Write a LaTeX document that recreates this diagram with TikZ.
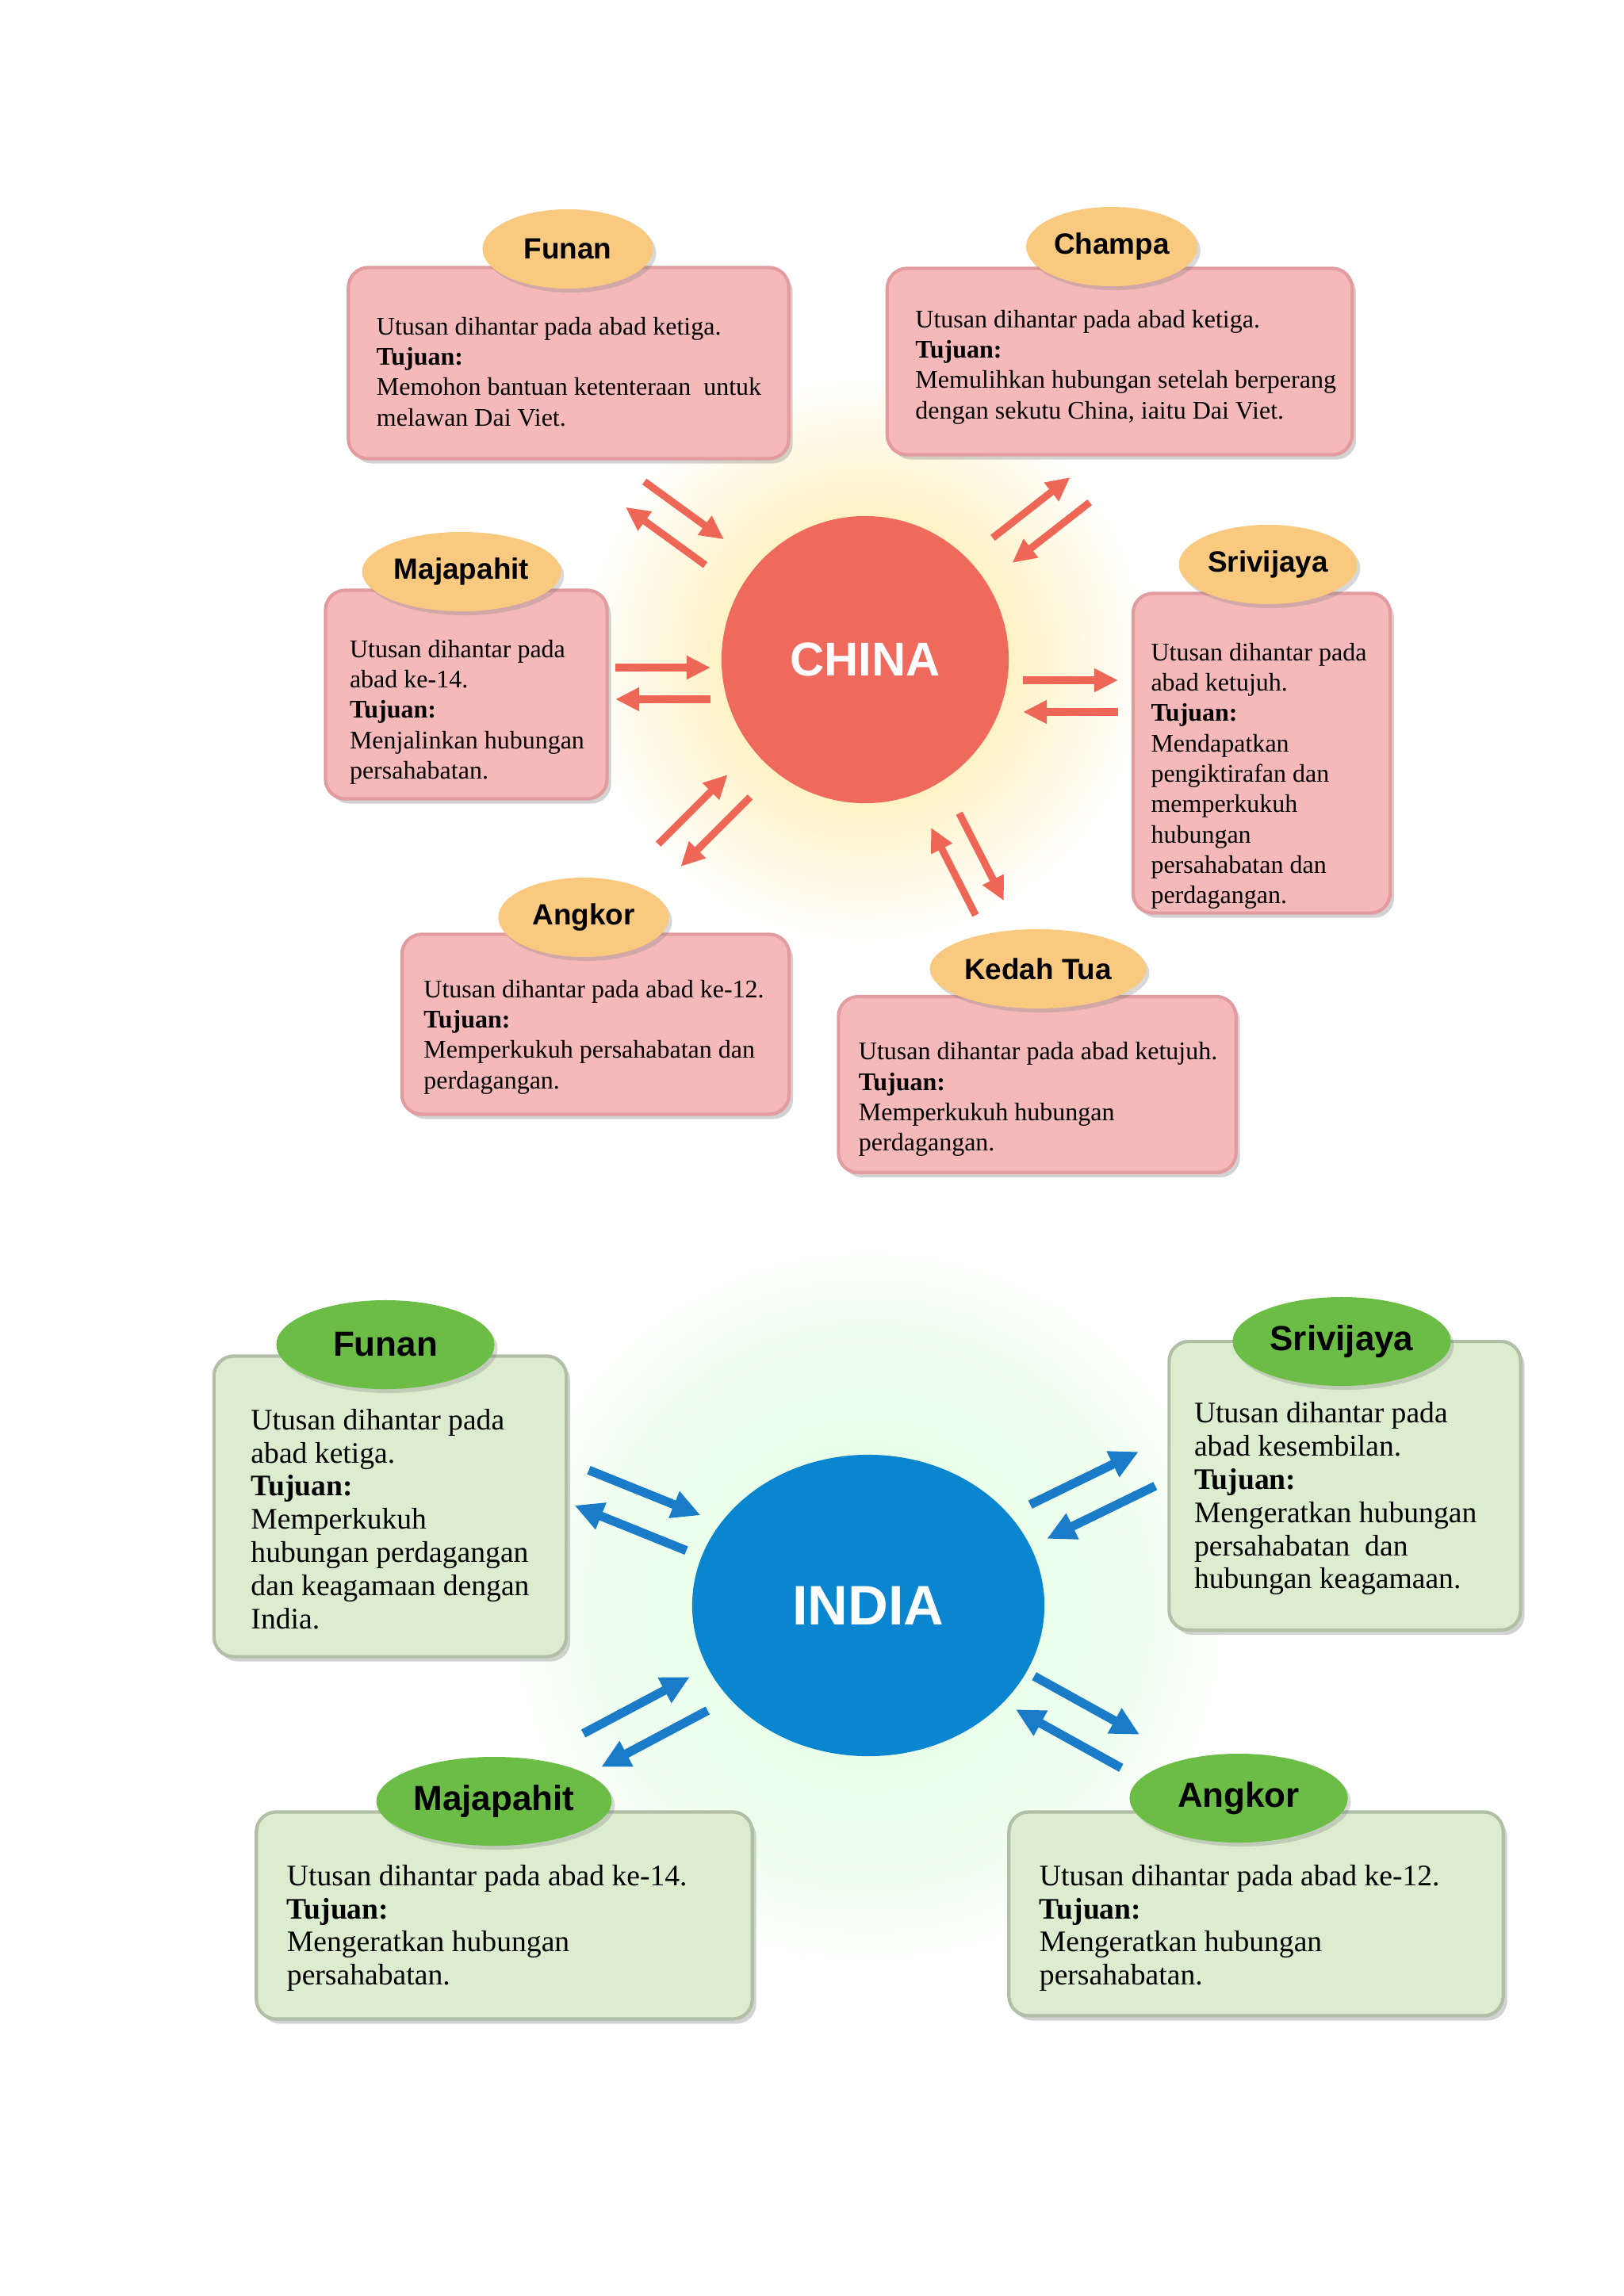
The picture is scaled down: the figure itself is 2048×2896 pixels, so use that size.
\documentclass[tikz,border=0pt]{standalone}
\usepackage{fontspec}
\setmainfont{Liberation Serif}
\newfontfamily\lsans{Liberation Sans}
\usetikzlibrary{arrows.meta,shadows,shapes.geometric}
\definecolor{pinkf}{HTML}{F5B9BA}\definecolor{pinkd}{HTML}{E29C9F}
\definecolor{greenf}{HTML}{DCEDCF}\definecolor{greend}{HTML}{B0BFA6}
\definecolor{orangel}{HTML}{F8C97F}\definecolor{greenl}{HTML}{6BBD45}
\definecolor{chinac}{HTML}{EF6A5D}\definecolor{indiac}{HTML}{0A86D0}
\definecolor{arrr}{HTML}{EE6656}\definecolor{arrb}{HTML}{1A7CC8}
\tikzset{
 x=0.01cm,y=-0.01cm,
 pbox/.style={draw=pinkd,line width=1.2pt,fill=pinkf,rounded corners=0.25cm,drop shadow={opacity=0.35,shadow xshift=0.05cm,shadow yshift=-0.06cm}},
 gbox/.style={draw=greend,line width=1.2pt,fill=greenf,rounded corners=0.25cm,drop shadow={opacity=0.35,shadow xshift=0.05cm,shadow yshift=-0.06cm}},
 olab/.style={ellipse,fill=orangel,minimum width=2.15cm,minimum height=1.0cm,inner xsep=1pt,font=\lsans\bfseries\fontsize{10.5}{12}\selectfont,drop shadow={opacity=0.3,shadow xshift=0.04cm,shadow yshift=-0.05cm}},
 glab/.style={ellipse,fill=greenl,minimum width=2.75cm,minimum height=1.12cm,inner xsep=1pt,font=\lsans\bfseries\fontsize{12.5}{14}\selectfont,drop shadow={opacity=0.3,shadow xshift=0.04cm,shadow yshift=-0.05cm}},
 ctxt/.style={anchor=north west,align=left,inner sep=0pt,font=\fontsize{9.1}{10.9}\selectfont,xshift=0.37cm,yshift=-0.64cm},
 itxt/.style={anchor=north west,align=left,inner sep=0pt,font=\fontsize{10.7}{11.9}\selectfont,xshift=0.48cm,yshift=-0.68cm},
 rarr/.style={draw=arrr,line width=2.6pt,-{Triangle[length=0.3cm,width=0.28cm]}},
 barr/.style={draw=arrb,line width=3.2pt,-{Triangle[length=0.36cm,width=0.34cm]}},
}
\newcommand\arrpair[6]{% x y angle halflength offset style
\begin{scope}[shift={(#1,#2)},rotate=#3]
 \draw[#6] (-#4,-#5) -- (#4,-#5);
 \draw[#6] (#4,#5) -- (-#4,#5);
\end{scope}}
\begin{document}
\begin{tikzpicture}
\useasboundingbox[fill=white] (0,0) rectangle (2048,2896);
% glows
\shade[inner color=yellow!55!orange!45,outer color=white] (1091,832) circle[radius=3.6cm];
\shade[inner color=green!25!white,outer color=white] (1095,2025) circle[radius=4.6cm];
\fill[black!4!green!6!white,opacity=0.7] (1095,2025) circle[radius=3.4cm];
% China
\node[circle,fill=chinac,minimum size=3.62cm,font=\lsans\bfseries\fontsize{17}{19}\selectfont,text=white] (china) at (1091,832) {CHINA};
\node[pbox,minimum width=5.55cm,minimum height=2.41cm] (cfunan) at (717,458) {};
\node[ctxt] (cfunant) at (cfunan.north west) {Utusan dihantar pada abad ketiga.\\\textbf{Tujuan:}\\Memohon bantuan ketenteraan\ \ untuk\\melawan Dai Viet.};
\node[olab] (cfunanl) at (716,314) {Funan};
\node[pbox,minimum width=5.86cm,minimum height=2.35cm] (cchampa) at (1412,456) {};
\node[ctxt,yshift=0.1cm] (cchampat) at (cchampa.north west) {Utusan dihantar pada abad ketiga.\\\textbf{Tujuan:}\\Memulihkan hubungan setelah berperang\\dengan sekutu China, iaitu Dai Viet.};
\node[olab] (cchampal) at (1402,311) {Champa};
\node[pbox,minimum width=3.55cm,minimum height=2.63cm] (cmaja) at (588,876) {};
\node[ctxt,xshift=-0.05cm] (cmajat) at (cmaja.north west) {Utusan dihantar pada\\abad ke-14.\\\textbf{Tujuan:}\\Menjalinkan hubungan\\persahabatan.};
\node[olab] (cmajal) at (582,721) {Majapahit};
\node[pbox,minimum width=3.24cm,minimum height=4.03cm] (csri) at (1591,950) {};
\node[ctxt,xshift=-0.13cm] (csrit) at (csri.north west) {Utusan dihantar pada\\abad ketujuh.\\\textbf{Tujuan:}\\Mendapatkan\\pengiktirafan dan\\memperkukuh\\hubungan\\persahabatan dan\\perdagangan.};
\node[olab] (csril) at (1599,712) {Srivijaya};
\node[pbox,minimum width=4.88cm,minimum height=2.27cm] (cang) at (751,1292) {};
\node[ctxt,yshift=0.05cm,xshift=-0.08cm] (cangt) at (cang.north west) {Utusan dihantar pada abad ke-12.\\\textbf{Tujuan:}\\Memperkukuh persahabatan dan\\perdagangan.};
\node[olab] (cangl) at (736,1157) {Angkor};
\node[pbox,minimum width=5.01cm,minimum height=2.22cm] (ckedah) at (1308,1368) {};
\node[ctxt,yshift=0.05cm,xshift=-0.1cm] (ckedaht) at (ckedah.north west) {Utusan dihantar pada abad ketujuh.\\\textbf{Tujuan:}\\Memperkukuh hubungan\\perdagangan.};
\node[olab,minimum width=2.2cm] (ckedahl) at (1309,1222) {Kedah Tua};
% China arrows
\arrpair{851}{660}{-36}{62}{20}{rarr}
\arrpair{1313}{656}{218}{62}{20}{rarr}
\arrpair{836}{862}{0}{60}{20}{rarr}
\arrpair{1350}{878}{180}{60}{20}{rarr}
\arrpair{888}{1035}{45}{62}{20}{rarr}
\arrpair{1220}{1090}{117}{62}{20}{rarr}
% India
\node[ellipse,fill=indiac,minimum width=4.44cm,minimum height=3.8cm,font=\lsans\bfseries\fontsize{20}{22}\selectfont,text=white] (india) at (1095,2025) {INDIA};
\node[gbox,minimum width=4.44cm,minimum height=3.79cm] (ifunan) at (492,1900) {};
\node[itxt] (ifunant) at (ifunan.north west) {Utusan dihantar pada\\abad ketiga.\\\textbf{Tujuan:}\\Memperkukuh\\hubungan perdagangan\\dan keagamaan dengan\\India.};
\node[glab] (ifunanl) at (486,1696) {Funan};
\node[gbox,minimum width=4.43cm,minimum height=3.64cm] (isri) at (1696,1874) {};
\node[itxt,xshift=-0.15cm,yshift=-0.1cm] (isrit) at (isri.north west) {Utusan dihantar pada\\abad kesembilan.\\\textbf{Tujuan:}\\Mengeratkan hubungan\\persahabatan\ \ dan\\hubungan keagamaan.};
\node[glab] (isril) at (1692,1692) {Srivijaya};
\node[gbox,minimum width=6.25cm,minimum height=2.61cm] (imaja) at (636,2416) {};
\node[itxt,xshift=-0.08cm] (imajat) at (imaja.north west) {Utusan dihantar pada abad ke-14.\\\textbf{Tujuan:}\\Mengeratkan hubungan\\persahabatan.};
\node[glab] (imajal) at (623,2272) {Majapahit};
\node[gbox,minimum width=6.23cm,minimum height=2.57cm] (iang) at (1584,2414) {};
\node[itxt,xshift=-0.08cm] (iangt) at (iang.north west) {Utusan dihantar pada abad ke-12.\\\textbf{Tujuan:}\\Mengeratkan hubungan\\persahabatan.};
\node[glab] (iangl) at (1562,2268) {Angkor};
% India arrows
\arrpair{804}{1905}{-22}{76}{24}{barr}
\arrpair{1378}{1886}{206}{76}{24}{barr}
\arrpair{814}{2172}{28}{76}{24}{barr}
\arrpair{1359}{2172}{151}{76}{24}{barr}
\end{tikzpicture}
\end{document}
